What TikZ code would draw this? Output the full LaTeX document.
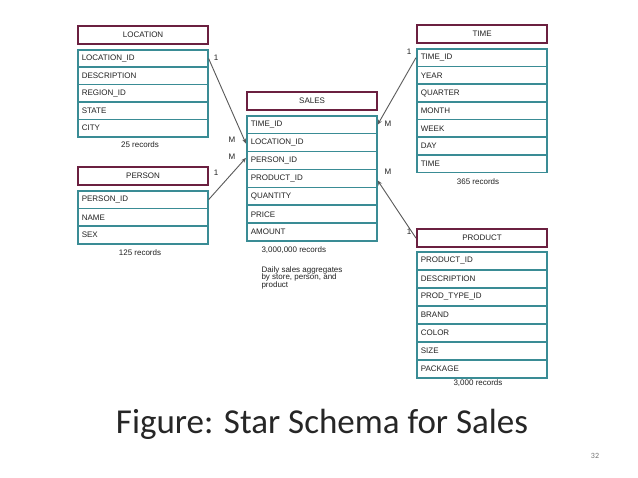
\documentclass[tikz,border=0pt]{standalone}
\usepackage{fontspec}
\setmainfont{Liberation Sans}
\newfontfamily\capfont{Carlito}
\usetikzlibrary{arrows.meta}
\definecolor{teal1}{HTML}{3A8C95}
\definecolor{maroon1}{HTML}{6B2040}
\definecolor{txt}{HTML}{222222}
\tikzset{
 field/.style={draw=teal1,line width=1.6pt,anchor=north west,minimum width=130pt,text width=122pt,inner xsep=4pt,inner ysep=0pt,align=left,font=\fontsize{8}{8}\selectfont,text=txt},
 hdr/.style={draw=maroon1,line width=2.2pt,minimum width=130pt,minimum height=18pt,anchor=north west,inner sep=0pt,font=\fontsize{8}{8}\selectfont,text=txt},
 note/.style={font=\fontsize{8}{8}\selectfont,text=txt},
 rel/.style={draw=black!65,line width=0.9pt,-{Stealth[length=5pt,width=4pt]}},
}
\newcommand{\mktable}[5]{%
 \foreach \t [count=\i] in {#5}{%
  \node[field,minimum height=#4pt] (#1\i) at ({#2},{#3+(\i-1)*#4}) {\t};}}
\begin{document}
\begin{tikzpicture}[x=1pt,y=-1pt]
\useasboundingbox[fill=white] (0,0) rectangle (638,478);
% LOCATION
\node[hdr] (loch) at (77,25) {LOCATION};
\mktable{loc}{77}{49}{17.4}{LOCATION\_ID,DESCRIPTION,REGION\_ID,STATE,CITY}
\node[note] (locr) at (140,145) {25 records};
% PERSON
\node[hdr] (perh) at (77,166) {PERSON};
\mktable{per}{77}{190}{17.7}{PERSON\_ID,NAME,SEX}
\node[note] (perr) at (140,253) {125 records};
% SALES
\node[hdr] (salh) at (246,91) {SALES};
\mktable{sal}{246}{115}{17.9}{TIME\_ID,LOCATION\_ID,PERSON\_ID,PRODUCT\_ID,QUANTITY,PRICE,AMOUNT}
\node[note,anchor=west] (salr) at (258,250) {3,000,000 records};
\node[note,anchor=north west,align=left,font=\fontsize{8}{7.5}\selectfont] (saln) at (258,263) {Daily sales aggregates\\by store, person, and\\product};
% TIME
\node[hdr] (timh) at (416,24) {TIME};
\mktable{tim}{416}{48}{17.7}{TIME\_ID,YEAR,QUARTER,MONTH,WEEK,DAY,TIME}
\node[note] (timr) at (478,182) {365 records};
% PRODUCT
\node[hdr] (proh) at (416,228) {PRODUCT};
\mktable{pro}{416}{251}{18}{PRODUCT\_ID,DESCRIPTION,PROD\_TYPE\_ID,BRAND,COLOR,SIZE,PACKAGE}
\node[note] (pror) at (478,383) {3,000 records};
% relations
\draw[rel] (loc1.east) -- ([yshift=-1pt]sal2.west);
\draw[rel] (per1.east) -- ([yshift=-7pt]sal3.north west);
\draw[rel] (tim1.west) -- (sal1.east);
\draw[rel] (proh.west) -- ([yshift=-2pt]sal4.east);
\node[note] at (216,58) {1};
\node[note] at (232,140) {M};
\node[note] at (216,173) {1};
\node[note] at (232,157) {M};
\node[note] at (409,52) {1};
\node[note] at (388,124) {M};
\node[note] at (409,232) {1};
\node[note] at (388,172) {M};
% caption
\node[font=\capfont\fontsize{35}{38}\selectfont,text=black!85] (cap) at (322,424) {Figure: Star Schema for Sales};
\node[font=\capfont\fontsize{8}{9}\selectfont,text=black!55] (pg) at (595,456) {32};
\end{tikzpicture}
\end{document}
